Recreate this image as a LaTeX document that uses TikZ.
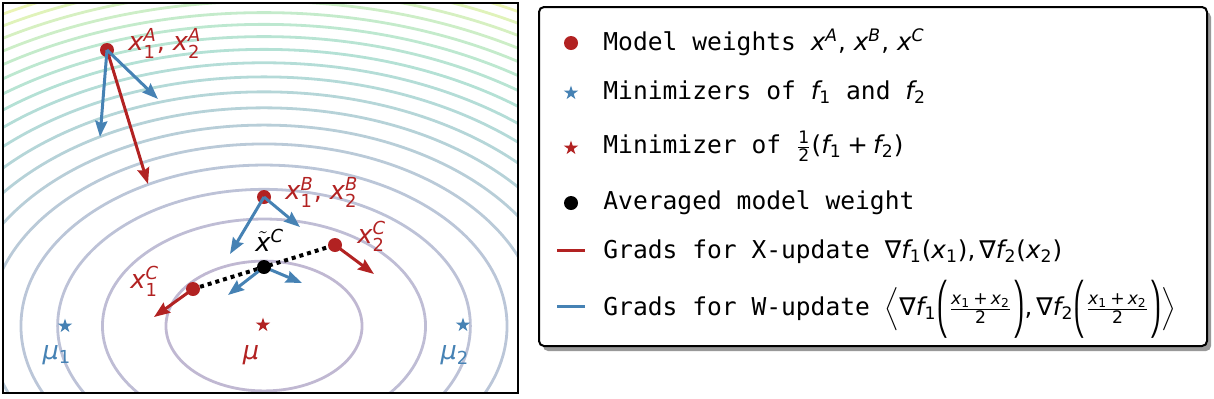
\documentclass[tikz,border=0pt]{standalone}
\usepackage{amsmath}
\usepackage[no-math]{fontspec}
\setmainfont{DejaVu Sans Mono}
\newfontfamily\dvs{DejaVu Sans}[NFSSFamily=dvs]
\DeclareSymbolFont{letters}{TU}{dvs}{m}{it}
\DeclareSymbolFont{operators}{TU}{dvs}{m}{n}
\DeclareSymbolFont{cmrm}{OT1}{cmr}{m}{n}
\DeclareMathAccent{\ttilde}{\mathalpha}{cmrm}{"7E}
\mathcode`\,="602C
\Umathchardef\muu="0 "1 "3BC
\Umathchardef\nab="0 "0 "2207
\usetikzlibrary{arrows.meta}
\definecolor{firebrick}{RGB}{178,34,34}
\definecolor{steelblue}{RGB}{70,130,180}
% viridis
\definecolor{vir0}{RGB}{68,1,84}
\definecolor{vir1}{RGB}{72,36,117}
\definecolor{vir2}{RGB}{65,68,135}
\definecolor{vir3}{RGB}{53,95,141}
\definecolor{vir4}{RGB}{42,120,142}
\definecolor{vir5}{RGB}{33,145,140}
\definecolor{vir6}{RGB}{34,168,132}
\definecolor{vir7}{RGB}{68,191,112}
\definecolor{vir8}{RGB}{122,209,81}
\definecolor{vir9}{RGB}{189,223,38}
\definecolor{vir10}{RGB}{253,231,37}
\tikzset{starmark/.pic={
  \fill[pic actions] plot[samples at={0,...,9}, variable=\k]
    ({-90+36*\k}:{7.5*(1-0.62*mod(\k,2))}) -- cycle;}}

\begin{document}
\begin{tikzpicture}[x=0.5pt, y=-0.5pt,
    every node/.style={font=\fontsize{12.3}{15}\selectfont},
    contour/.style={line width=1.4pt},
    dot/.style={circle, inner sep=0pt, minimum size=7pt},
    xgrad/.style={firebrick, line width=1.5pt, -{Stealth[length=8pt, width=6pt, inset=1pt]}},
    wgrad/.style={steelblue, line width=1.5pt, -{Stealth[length=8pt, width=6pt, inset=1pt]}},
    avgline/.style={black, line width=2pt, dash pattern=on 2pt off 2pt},
    lab/.style={anchor=base west, inner sep=0pt, font=\fontsize{12.8}{15}\selectfont},
    mulab/.style={anchor=base, inner sep=0pt, font=\fontsize{12.8}{15}\selectfont},
    legtext/.style={anchor=base west, inner sep=0pt}]
        \useasboundingbox (0,0) rectangle (1214,398);

        % --- 等高線 ---
        \begin{scope}
          \clip (3,3) rectangle (518,393);
          \foreach \k in {1,...,20}{
            \pgfmathsetmacro{\s}{10*(\k+2)/22}
            \pgfmathtruncatemacro{\ii}{min(floor(\s),9)}
            \pgfmathtruncatemacro{\jj}{\ii+1}
            \pgfmathtruncatemacro{\pp}{round(100*(\s-\ii))}
            \colorlet{ccol}{vir\jj!\pp!vir\ii}
            \colorlet{ccol}{ccol!34!white}
            \pgfmathsetmacro{\rr}{128.4*sqrt(\k-0.417)}
            \draw[contour, ccol] (264,326) ellipse [x radius=\rr, y radius=\rr/1.51];
          }
        \end{scope}
        \draw[line width=1pt] (3,3) rectangle (518,393);

        % --- 点 ---
        \node[dot, fill=firebrick] (xA) at (107,50) {};
        \node[dot, fill=firebrick] (xB) at (264,197) {};
        \node[dot, fill=firebrick] (xCa) at (193,289) {};
        \node[dot, fill=firebrick] (xCb) at (335,245) {};
        \coordinate (avgpos) at (264,267);

        % 平均への点線
        \draw[avgline] (xCa) -- (xCb);

        % 最小点
        \pic[fill=steelblue] (mu1) at (65,326) {starmark};
        \pic[fill=steelblue] (mu2) at (463,325) {starmark};
        \pic[fill=firebrick] (mu) at (263,325) {starmark};

        % --- 勾配 ---
        \coordinate (tipAr) at (148,184);
        \coordinate (tipAb) at (100,137);
        \coordinate (tipAc) at (158,99);
        \coordinate (tipBb) at (230,254);
        \coordinate (tipBc) at (300,227);
        \coordinate (tipCa) at (154,317);
        \coordinate (tipCb) at (374,274);
        \coordinate (tipMb) at (228,295);
        \coordinate (tipMc) at (302,283);

        \draw[xgrad] (xA.center) -- (tipAr);
        \draw[wgrad] (xA.center) -- (tipAb);
        \draw[wgrad] (xA.center) -- (tipAc);
        \draw[wgrad] (xB.center) -- (tipBb);
        \draw[wgrad] (xB.center) -- (tipBc);
        \draw[xgrad] (xCa.center) -- (tipCa);
        \draw[xgrad] (xCb.center) -- (tipCb);
        \draw[wgrad] (avgpos) -- (tipMb);
        \draw[wgrad] (avgpos) -- (tipMc);
        \node[dot, fill=black] (avg) at (avgpos) {};

        % ラベル
        \node[lab, firebrick] (xAlab) at (128,50) {$x_1^A,\, x_2^A$};
        \node[lab, firebrick] (xBlab) at (285,199) {$x_1^B,\, x_2^B$};
        \node[lab, firebrick] (xCalab) at (130,288) {$x_1^C$};
        \node[lab, firebrick] (xCblab) at (357,243) {$x_2^C$};
        \node[lab] (avglab) at (255,251) {$\ttilde{x}^C$};
        \node[mulab, steelblue] (mu1lab) at (57,359) {$\muu_1$};
        \node[mulab, firebrick] (mulab) at (251,359) {$\muu$};
        \node[mulab, steelblue] (mu2lab) at (455,359) {$\muu_2$};

        % --- 凡例 ---
        \fill[black!40, rounded corners=2.5pt] (543,12) rectangle (1211,351);
        \draw[fill=white, line width=1pt, rounded corners=2.5pt] (539,7) rectangle (1207,346);

        \node[dot, fill=firebrick] (leg1) at (571,43) {};
        \pic[fill=steelblue] (leg2) at (571,93) {starmark};
        \pic[fill=firebrick] (leg3) at (571,148) {starmark};
        \node[dot, fill=black] (leg4) at (571,203) {};
        \draw[firebrick, line width=1.5pt] (557,250) -- (585,250);
        \draw[steelblue, line width=1.5pt] (557,306) -- (585,306);

        \node[legtext] (legt1) at (603,50) {Model weights $x^A,\, x^B,\, x^C$};
        \node[legtext] (legt2) at (603,99) {Minimizers of $f_1$ and $f_2$};
        \node[legtext] (legt3) at (603,153) {Minimizer of $\tfrac{1}{2}(f_1+f_2)$};
        \node[legtext] (legt4) at (603,209) {Averaged model weight};
        \node[legtext] (legt5) at (603,258) {Grads for X-update $\nab f_1(x_1),\nab f_2(x_2)$};
        \node[legtext] (legt6) at (603,315) {Grads for W-update $\Bigl\langle\nab f_1\bigl(\tfrac{x_1\,+\,x_2}{2}\bigr),\nab f_2\bigl(\tfrac{x_1\,+\,x_2}{2}\bigr)\Bigr\rangle$};
      \end{tikzpicture}
\end{document}
